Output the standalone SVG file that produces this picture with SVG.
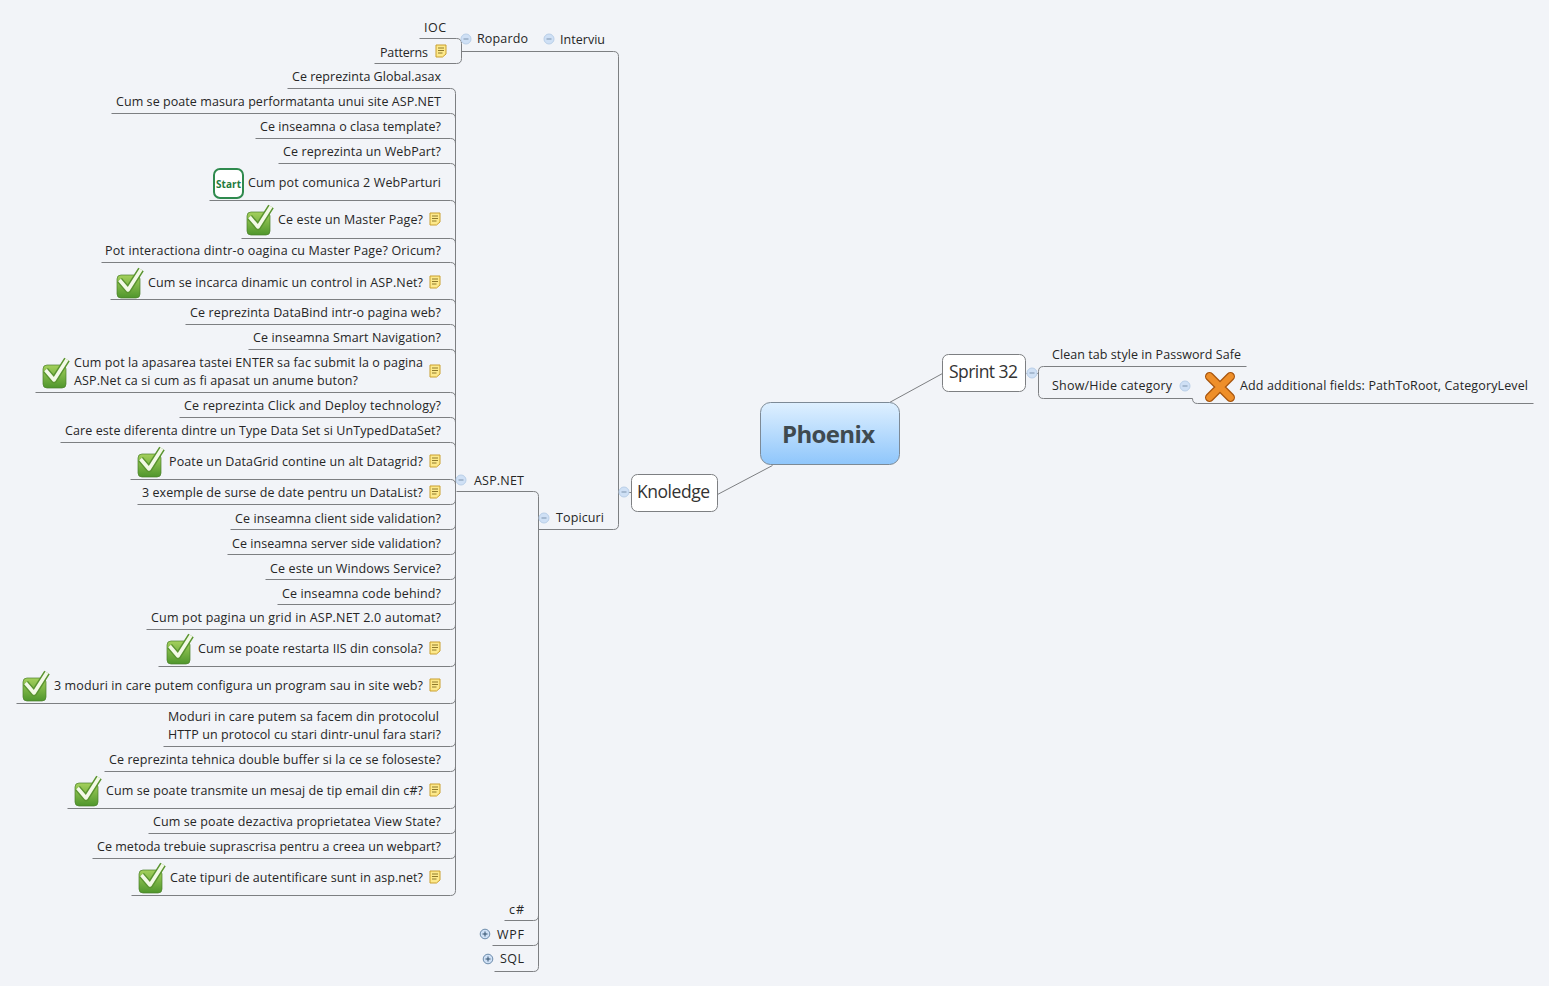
<svg xmlns="http://www.w3.org/2000/svg" width="1549" height="986" viewBox="0 0 1549 986">
<style>
text{font-family:"Open Sans","Noto Sans","Liberation Sans",sans-serif;font-size:12.500px;fill:#262626;transform:translateY(.8px)}
.c{fill:none;stroke:#7d7f82;stroke-width:1}
.b{fill:#fff;stroke:#7d7f82;stroke-width:1}
.big{font-size:17.500px;fill:#333}
.root{font-size:24px;font-weight:700;fill:#3f4a50}
</style>
<defs>
<linearGradient id="gr" x1="0" y1="0" x2="0" y2="1"><stop offset="0" stop-color="#dff0ff"/><stop offset="1" stop-color="#8fc6fb"/></linearGradient>
<linearGradient id="gc" x1="0" y1="0" x2="0" y2="1"><stop offset="0" stop-color="#a4d05c"/><stop offset="1" stop-color="#4f962c"/></linearGradient>
<g id="note"><path d="M-5-6H5V3L1.500 6H-5Z" fill="#fde98b" stroke="#c99f2e"/><path d="M-3-3H3M-3-.5H3M-3 2H1.500" stroke="#8f7a2c" fill="none"/></g>
<g id="check"><rect x="0" y="7" width="23" height="23" rx="4" fill="url(#gc)" stroke="#4c7f2c" stroke-width=".7"/><path d="M2.500 12L11 22L24 1.500" fill="none" stroke="#5a9430" stroke-width="6.500" stroke-linejoin="round"/><path d="M2.500 12L11 22L24 1.500" fill="none" stroke="#f3f9e6" stroke-width="3.500" stroke-linejoin="round"/></g>
<g id="minus"><circle r="5" fill="#cfe0f5" stroke="#b9cfe8"/><path d="M-2.500 0H2.500" stroke="#7d93ad"/></g>
<g id="plus"><circle r="4.800" fill="#cfe0f5" stroke="#6d8cab"/><path d="M-2.500 0H2.500M0-2.500V2.500" stroke="#33506d"/></g>
</defs>
<rect width="1549" height="986" fill="#f2f4f8"/>
<g id="connectors" transform="translate(.5 .5)">
<path class="c" d="M717 494L772 465M889 402L942 373"/>
<path class="c" d="M632 492H618M461 51H613Q618 51 618 56V524Q618 529 613 529H538"/>
<path class="c" d="M456 491H533Q538 491 538 496V966Q538 971 533 971H494M504 920H533Q538 920 538 915M492 945H533Q538 945 538 940"/>
<path class="c" d="M419 38H456Q461 38 461 43V58Q461 63 456 63H374"/>
<path class="c" d="M287 88H450Q455 88 455 93V890Q455 895 450 895H131"/>
<path class="c" d="M111 113H450Q455 113 455 118M255 138H450Q455 138 455 143M278 163H450Q455 163 455 168M209 200H450Q455 200 455 205M241 238H450Q455 238 455 243M101 262H450Q455 262 455 267M110 299H450Q455 299 455 304M185 324H450Q455 324 455 329M248 349H450Q455 349 455 354M35 392H450Q455 392 455 397M179 417H450Q455 417 455 422M60 442H450Q455 442 455 447M130 479H450Q455 479 455 484"/>
<path class="c" d="M137 504H450Q455 504 455 499M230 529H450Q455 529 455 524M227 554H450Q455 554 455 549M265 579H450Q455 579 455 574M277 604H450Q455 604 455 599M146 629H450Q455 629 455 624M158 666H450Q455 666 455 661M16 703H450Q455 703 455 698M163 746H450Q455 746 455 741M104 771H450Q455 771 455 766M67 808H450Q455 808 455 803M148 833H450Q455 833 455 828M92 858H450Q455 858 455 853"/>
<path class="c" d="M1026 373H1038M1246 366H1043Q1038 366 1038 371V393Q1038 398 1043 398H1192Q1192 403 1197 403H1533"/>
</g>
<g id="phoenix"><rect x="760.500" y="402.500" width="139" height="62" rx="10" fill="url(#gr)" stroke="#7d8a96"/><text class="root" x="782" y="442" textLength="93">Phoenix</text></g>
<g id="sprint"><rect class="b" x="942.500" y="354.500" width="83" height="37" rx="6"/><text class="big" x="949" y="377" textLength="69">Sprint 32</text><use href="#minus" x="1032" y="373"/></g>
<g id="clean"><text x="1052" y="358" textLength="189">Clean tab style in Password Safe</text></g>
<g id="showhide"><text x="1052" y="389" textLength="120">Show/Hide category</text><use href="#minus" x="1185" y="386"/></g>
<g id="addfields"><path d="M1209.500 376.500L1230.500 397.500M1230.500 376.500L1209.500 397.500" fill="none" stroke="#a8560f" stroke-width="9" stroke-linecap="round"/><path d="M1209.500 376.500L1230.500 397.500M1230.500 376.500L1209.500 397.500" fill="none" stroke="#ee8f2a" stroke-width="6.500" stroke-linecap="round"/><text x="1240" y="389" textLength="288">Add additional fields: PathToRoot, CategoryLevel</text></g>
<g id="knoledge"><rect class="b" x="631.500" y="474.500" width="86" height="37" rx="6"/><text class="big" x="637" y="497" textLength="73">Knoledge</text><use href="#minus" x="624" y="492"/></g>
<g id="interviu"><text x="560" y="43" textLength="45">Interviu</text><use href="#minus" x="549" y="39"/></g>
<g id="topicuri"><text x="556" y="521" textLength="48">Topicuri</text><use href="#minus" x="544" y="518"/></g>
<g id="ropardo"><text x="477" y="42" textLength="51">Ropardo</text><use href="#minus" x="466" y="39"/></g>
<g id="ioc"><text x="424" y="31" textLength="22">IOC</text></g>
<g id="patterns"><text x="380" y="56" textLength="48">Patterns</text><use href="#note" x="441" y="51"/></g>
<g id="aspnet"><text x="474" y="484" textLength="50">ASP.NET</text><use href="#minus" x="461" y="480"/></g>
<g id="csharp"><text x="509" y="913" textLength="15">c#</text></g>
<g id="wpf"><text x="497" y="938" textLength="27">WPF</text><use href="#plus" x="485" y="934"/></g>
<g id="sql"><text x="500" y="962" textLength="24">SQL</text><use href="#plus" x="488" y="959"/></g>
<g id="q1"><text x="292" y="80" textLength="149">Ce reprezinta Global.asax</text></g>
<g id="q2"><text x="116" y="105" textLength="325">Cum se poate masura performatanta unui site ASP.NET</text></g>
<g id="q3"><text x="260" y="130" textLength="181">Ce inseamna o clasa template?</text></g>
<g id="q4"><text x="283" y="155" textLength="158">Ce reprezinta un WebPart?</text></g>
<g id="q5"><rect x="214" y="169" width="29" height="29" rx="6" fill="#fff" stroke="#2f8a4e" stroke-width="2"/><text x="216" y="187" textLength="25" style="font-size:10px;font-weight:700;fill:#1f7a3e">Start</text><text x="248" y="186" textLength="193">Cum pot comunica 2 WebParturi</text></g>
<g id="q6"><use href="#check" x="247" y="205"/><text x="278" y="223" textLength="145">Ce este un Master Page?</text><use href="#note" x="435" y="219"/></g>
<g id="q7"><text x="105" y="254" textLength="336">Pot interactiona dintr-o oagina cu Master Page? Oricum?</text></g>
<g id="q8"><use href="#check" x="117" y="268"/><text x="148" y="286" textLength="275">Cum se incarca dinamic un control in ASP.Net?</text><use href="#note" x="435" y="282"/></g>
<g id="q9"><text x="190" y="316" textLength="251">Ce reprezinta DataBind intr-o pagina web?</text></g>
<g id="q10"><text x="253" y="341" textLength="188">Ce inseamna Smart Navigation?</text></g>
<g id="q11"><use href="#check" x="43" y="358"/><text x="74" y="366" textLength="349">Cum pot la apasarea tastei ENTER sa fac submit la o pagina</text><text x="74" y="384" textLength="284">ASP.Net ca si cum as fi apasat un anume buton?</text><use href="#note" x="435" y="371"/></g>
<g id="q12"><text x="184" y="409" textLength="257">Ce reprezinta Click and Deploy technology?</text></g>
<g id="q13"><text x="65" y="434" textLength="376">Care este diferenta dintre un Type Data Set si UnTypedDataSet?</text></g>
<g id="q14"><use href="#check" x="138" y="447"/><text x="169" y="465" textLength="254">Poate un DataGrid contine un alt Datagrid?</text><use href="#note" x="435" y="461"/></g>
<g id="q15"><text x="142" y="496" textLength="281">3 exemple de surse de date pentru un DataList?</text><use href="#note" x="435" y="492"/></g>
<g id="q16"><text x="235" y="522" textLength="206">Ce inseamna client side validation?</text></g>
<g id="q17"><text x="232" y="547" textLength="209">Ce inseamna server side validation?</text></g>
<g id="q18"><text x="270" y="572" textLength="171">Ce este un Windows Service?</text></g>
<g id="q19"><text x="282" y="597" textLength="159">Ce inseamna code behind?</text></g>
<g id="q20"><text x="151" y="621" textLength="290">Cum pot pagina un grid in ASP.NET 2.0 automat?</text></g>
<g id="q21"><use href="#check" x="167" y="634"/><text x="198" y="652" textLength="225">Cum se poate restarta IIS din consola?</text><use href="#note" x="435" y="648"/></g>
<g id="q22"><use href="#check" x="23" y="671"/><text x="54" y="689" textLength="369">3 moduri in care putem configura un program sau in site web?</text><use href="#note" x="435" y="685"/></g>
<g id="q23"><text x="168" y="720" textLength="271">Moduri in care putem sa facem din protocolul</text><text x="168" y="738" textLength="273">HTTP un protocol cu stari dintr-unul fara stari?</text></g>
<g id="q24"><text x="109" y="763" textLength="332">Ce reprezinta tehnica double buffer si la ce se foloseste?</text></g>
<g id="q25"><use href="#check" x="75" y="776"/><text x="106" y="794" textLength="317">Cum se poate transmite un mesaj de tip email din c#?</text><use href="#note" x="435" y="790"/></g>
<g id="q26"><text x="153" y="825" textLength="288">Cum se poate dezactiva proprietatea View State?</text></g>
<g id="q27"><text x="97" y="850" textLength="344">Ce metoda trebuie suprascrisa pentru a creea un webpart?</text></g>
<g id="q28"><use href="#check" x="139" y="863"/><text x="170" y="881" textLength="253">Cate tipuri de autentificare sunt in asp.net?</text><use href="#note" x="435" y="877"/></g>
</svg>
